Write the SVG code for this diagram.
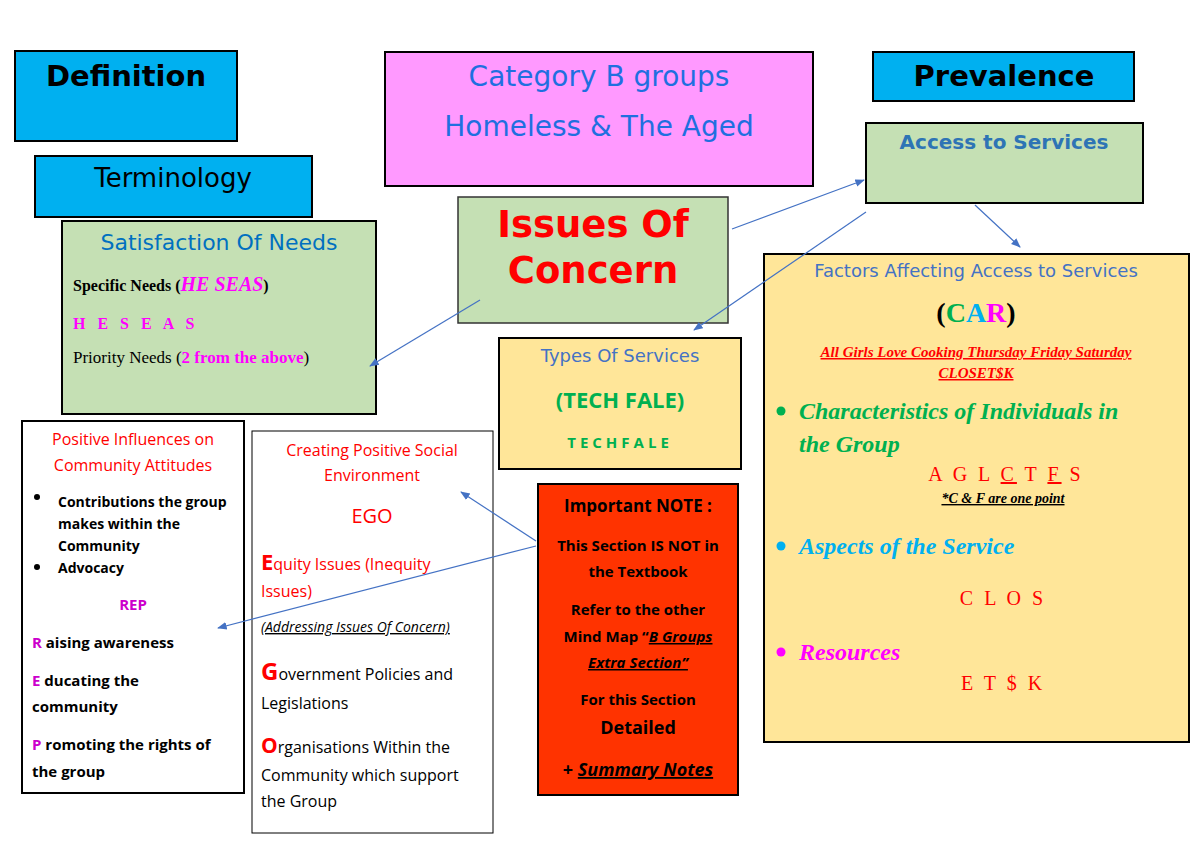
<svg xmlns="http://www.w3.org/2000/svg" width="1200" height="849" viewBox="0 0 1200 849">
<style>
.b{stroke:#000;stroke-width:2}
.dj{font-family:"DejaVu Sans",sans-serif}
.sf{font-family:"Liberation Serif",serif}
.os{font-family:"Open Sans","Liberation Sans",sans-serif}
.c{text-anchor:middle}
</style>
<defs><marker id="a" viewBox="0 0 10 10" refX="9" refY="5" markerWidth="8" markerHeight="8" orient="auto"><path d="M0,1L10,5L0,9z" fill="#4472c4"/></marker></defs>
<rect width="1200" height="849" fill="#fff"/>
<g id="definition"><rect x="15" y="51" width="222" height="90" fill="#00b0f0" class="b"/><text x="126" y="86" class="dj c" font-size="29" font-weight="bold">Definition</text></g>
<g id="terminology"><rect x="35" y="156" width="277" height="61" fill="#00b0f0" class="b"/><text x="173" y="187" class="dj c" font-size="26">Terminology</text></g>
<g id="category"><rect x="385" y="52" width="428" height="134" fill="#ff99ff" class="b"/><text x="599" y="86" class="dj c" font-size="28" fill="#1f6fe0">Category B groups</text><text x="599" y="136" class="dj c" font-size="28" fill="#1f6fe0">Homeless &amp; The Aged</text></g>
<g id="prevalence"><rect x="873" y="52" width="261" height="49" fill="#00b0f0" class="b"/><text x="1004" y="86" class="dj c" font-size="29" font-weight="bold">Prevalence</text></g>
<g id="access"><rect x="866" y="123" width="277" height="80" fill="#c5e0b4" class="b"/><text x="1004" y="149" class="dj c" font-size="20" font-weight="bold" fill="#2e74b5">Access to Services</text></g>
<g id="issues"><rect x="458" y="197" width="270" height="126" fill="#c5e0b4" stroke="#333" stroke-width="1.5"/><text x="593" y="237" class="dj c" font-size="37" font-weight="bold" fill="#ff0000">Issues Of</text><text x="593" y="283" class="dj c" font-size="37" font-weight="bold" fill="#ff0000">Concern</text></g>
<g id="satisfaction"><rect x="62" y="221" width="314" height="193" fill="#c5e0b4" class="b"/>
<text x="219" y="250" class="dj c" font-size="22" fill="#0070c0">Satisfaction Of Needs</text>
<text x="73" y="291" class="sf" font-size="16" font-weight="bold">Specific Needs (<tspan fill="#ff00ff" font-style="italic" font-size="20">HE SEAS</tspan>)</text>
<text x="73" y="329" class="sf" font-size="16" font-weight="bold" fill="#ff00ff" xml:space="preserve">H   E   S   E   A   S</text>
<text x="73" y="363" class="sf" font-size="17">Priority Needs (<tspan fill="#ff00ff" font-weight="bold">2 from the above</tspan>)</text></g>
<g id="types"><rect x="499" y="338" width="242" height="131" fill="#ffe699" class="b"/>
<text x="620" y="362" class="dj c" font-size="18" fill="#4472c4">Types Of Services</text>
<text x="620" y="408" class="os c" font-size="22" font-weight="bold" fill="#00b050">(TECH FALE)</text>
<text x="620" y="448" class="os c" font-size="15" font-weight="bold" fill="#00b050" letter-spacing="4">TECHFALE</text></g>
<g id="factors"><rect x="764" y="254" width="425" height="488" fill="#ffe699" class="b"/>
<text x="976" y="277" class="dj c" font-size="18" fill="#4472c4">Factors Affecting Access to Services</text>
<text x="976" y="322" class="sf c" font-size="28" font-weight="bold">(<tspan fill="#00b050">C</tspan><tspan fill="#00b0f0">A</tspan><tspan fill="#ff00ff">R</tspan>)</text>
<text x="976" y="357" class="sf c" font-size="15" font-weight="bold" font-style="italic" fill="#ff0000" text-decoration="underline"> All Girls Love Cooking Thursday Friday Saturday</text>
<text x="976" y="378" class="sf c" font-size="15" font-weight="bold" font-style="italic" fill="#ff0000" text-decoration="underline">CLOSET$K </text>
<circle cx="781" cy="411" r="4.5" fill="#00b050"/>
<text x="799" y="419" class="sf" font-size="24" font-weight="bold" font-style="italic" fill="#00b050">Characteristics of Individuals in</text>
<text x="799" y="452" class="sf" font-size="24" font-weight="bold" font-style="italic" fill="#00b050">the Group</text>
<text x="1006" y="481" class="sf c" font-size="20" fill="#ff0000" letter-spacing="3">A G L <tspan text-decoration="underline">C</tspan> T <tspan text-decoration="underline">F</tspan> S</text>
<text x="1003" y="503" class="sf c" font-size="14" font-weight="bold" font-style="italic" text-decoration="underline">*C &amp; F are one point</text>
<circle cx="781" cy="546" r="4.5" fill="#00b0f0"/>
<text x="799" y="554" class="sf" font-size="24" font-weight="bold" font-style="italic" fill="#00b0f0">Aspects of the Service</text>
<text x="1003" y="605" class="sf c" font-size="20" fill="#ff0000" letter-spacing="3">C L O S</text>
<circle cx="781" cy="652" r="4.5" fill="#ff00ff"/>
<text x="799" y="660" class="sf" font-size="24" font-weight="bold" font-style="italic" fill="#ff00ff">Resources</text>
<text x="1003" y="690" class="sf c" font-size="20" fill="#ff0000" letter-spacing="3">E T $ K</text></g>
<g id="positive"><rect x="22" y="421" width="222" height="372" fill="#fff" class="b"/>
<text x="133" y="445" class="os c" font-size="16" fill="#ff0000">Positive Influences on</text>
<text x="133" y="471" class="os c" font-size="16" fill="#ff0000">Community Attitudes</text>
<circle cx="37" cy="497" r="3" fill="#000"/><circle cx="37" cy="567" r="3" fill="#000"/>
<text x="58" y="507" class="os" font-size="14" font-weight="bold">Contributions the group</text>
<text x="58" y="529" class="os" font-size="14" font-weight="bold">makes within the</text>
<text x="58" y="551" class="os" font-size="14" font-weight="bold">Community</text>
<text x="58" y="573" class="os" font-size="14" font-weight="bold">Advocacy</text>
<text x="133" y="610" class="os c" font-size="15" font-weight="bold" fill="#cc00cc">REP</text>
<text x="32" y="648" class="os" font-size="15" font-weight="bold"><tspan fill="#cc00cc">R</tspan> aising awareness</text>
<text x="32" y="686" class="os" font-size="15" font-weight="bold"><tspan fill="#cc00cc">E</tspan> ducating the</text>
<text x="32" y="712" class="os" font-size="15" font-weight="bold">community</text>
<text x="32" y="750" class="os" font-size="15" font-weight="bold"><tspan fill="#cc00cc">P</tspan> romoting the rights of</text>
<text x="32" y="777" class="os" font-size="15" font-weight="bold">the group</text></g>
<g id="creating"><rect x="252" y="431" width="241" height="402" fill="#fff" stroke="#000" stroke-width="1"/>
<text x="372" y="456" class="os c" font-size="16" fill="#ff0000">Creating Positive Social</text>
<text x="372" y="481" class="os c" font-size="16" fill="#ff0000">Environment</text>
<text x="372" y="523" class="os c" font-size="20" fill="#ff0000">EGO</text>
<text x="261" y="570" class="os" font-size="16" fill="#ff0000"><tspan font-size="22" font-weight="bold">E</tspan>quity Issues (Inequity</text>
<text x="261" y="597" class="os" font-size="16" fill="#ff0000">Issues)</text>
<text x="261" y="632" class="os" font-size="14" font-style="italic" text-decoration="underline">(Addressing Issues Of Concern)</text>
<text x="261" y="680" class="os" font-size="16"><tspan font-size="24" font-weight="bold" fill="#ff0000">G</tspan>overnment Policies and</text>
<text x="261" y="709" class="os" font-size="16">Legislations</text>
<text x="261" y="753" class="os" font-size="16"><tspan font-size="21" font-weight="bold" fill="#ff0000">O</tspan>rganisations Within the</text>
<text x="261" y="781" class="os" font-size="16">Community which support</text>
<text x="261" y="807" class="os" font-size="16">the Group</text></g>
<g id="note"><rect x="538" y="484" width="200" height="311" fill="#ff3300" class="b"/>
<g class="os c" font-weight="bold">
<text x="638" y="512" font-size="17">Important NOTE :</text>
<text x="638" y="551" font-size="15">This Section IS NOT in</text>
<text x="638" y="577" font-size="15">the Textbook</text>
<text x="638" y="615" font-size="15">Refer to the other</text>
<text x="638" y="642" font-size="15">Mind Map “<tspan font-style="italic" text-decoration="underline">B Groups</tspan></text>
<text x="638" y="668" font-size="15" font-style="italic" text-decoration="underline">Extra Section”</text>
<text x="638" y="705" font-size="15">For this Section</text>
<text x="638" y="734" font-size="18">Detailed</text>
<text x="638" y="776" font-size="18">+ <tspan font-style="italic" text-decoration="underline">Summary Notes</tspan></text></g></g>
<g id="connectors" stroke="#4472c4" stroke-width="1.2" fill="none" marker-end="url(#a)">
<line x1="732" y1="229" x2="864" y2="180"/>
<line x1="975" y1="205" x2="1020" y2="247"/>
<line x1="866" y1="212" x2="694" y2="330"/>
<line x1="480" y1="300" x2="370" y2="366"/>
<line x1="536" y1="541" x2="461" y2="492"/>
<line x1="536" y1="546" x2="218" y2="628"/>
</g>
</svg>
